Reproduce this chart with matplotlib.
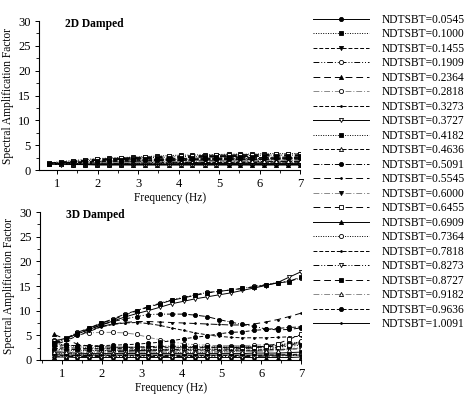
import matplotlib

matplotlib.use("Agg")
import matplotlib.pyplot as plt
from matplotlib.ticker import MultipleLocator

plt.rcParams["font.family"] = ["Liberation Serif", "DejaVu Serif"]

# frequency points (Hz)
freq = [0.80, 1.10, 1.39, 1.69, 1.98, 2.28, 2.57, 2.87, 3.16, 3.46, 3.75,
        4.05, 4.34, 4.64, 4.93, 5.23, 5.52, 5.82, 6.11, 6.41, 6.70, 7.00]

ndtsbt = ["0.0545", "0.1000", "0.1455", "0.1909", "0.2364", "0.2818",
          "0.3273", "0.3727", "0.4182", "0.4636", "0.5091", "0.5545",
          "0.6000", "0.6455", "0.6909", "0.7364", "0.7818", "0.8273",
          "0.8727", "0.9182", "0.9636", "1.0091"]

# 2D damped spectral amplification, one row per NDTSBT
saf_2d = [
    [1.2, 1.2, 1.2, 1.2, 1.2, 1.2, 1.2, 1.2, 1.2, 1.2, 1.2, 1.2, 1.2, 1.2, 1.2, 1.2, 1.2, 1.2, 1.2, 1.2, 1.2, 1.2],
    [1.2, 1.4, 1.5, 1.6, 1.7, 1.8, 1.8, 1.9, 2.0, 2.0, 2.1, 2.1, 2.2, 2.2, 2.2, 2.3, 2.3, 2.3, 2.3, 2.4, 2.4, 2.4],
    [1.3, 1.4, 1.6, 1.7, 1.8, 1.9, 2.0, 2.1, 2.2, 2.2, 2.3, 2.3, 2.4, 2.4, 2.4, 2.5, 2.5, 2.5, 2.5, 2.6, 2.6, 2.6],
    [1.2, 1.2, 1.3, 1.3, 1.3, 1.4, 1.4, 1.4, 1.4, 1.5, 1.5, 1.5, 1.5, 1.6, 1.6, 1.6, 1.6, 1.6, 1.7, 1.7, 1.7, 1.7],
    [1.3, 1.5, 1.7, 1.8, 2.0, 2.1, 2.2, 2.3, 2.4, 2.5, 2.5, 2.6, 2.6, 2.7, 2.7, 2.8, 2.8, 2.8, 2.9, 2.9, 2.9, 2.9],
    [1.2, 1.2, 1.2, 1.2, 1.3, 1.3, 1.3, 1.3, 1.3, 1.3, 1.4, 1.4, 1.4, 1.4, 1.4, 1.4, 1.4, 1.5, 1.5, 1.5, 1.5, 1.5],
    [1.2, 1.3, 1.4, 1.5, 1.6, 1.6, 1.7, 1.7, 1.8, 1.8, 1.9, 1.9, 2.0, 2.0, 2.0, 2.1, 2.1, 2.1, 2.1, 2.2, 2.2, 2.2],
    [1.2, 1.1, 1.1, 1.1, 1.0, 1.0, 1.0, 1.0, 1.0, 1.0, 1.0, 1.0, 1.0, 1.0, 1.0, 1.0, 1.0, 1.0, 1.0, 1.0, 1.0, 1.0],
    [1.4, 1.7, 1.9, 2.1, 2.3, 2.4, 2.5, 2.6, 2.7, 2.8, 2.9, 3.0, 3.0, 3.1, 3.1, 3.2, 3.2, 3.2, 3.3, 3.3, 3.3, 3.3],
    [1.2, 1.2, 1.2, 1.3, 1.3, 1.3, 1.3, 1.4, 1.4, 1.4, 1.4, 1.4, 1.5, 1.5, 1.5, 1.5, 1.5, 1.5, 1.6, 1.6, 1.6, 1.6],
    [1.3, 1.5, 1.7, 1.9, 2.0, 2.2, 2.3, 2.4, 2.5, 2.5, 2.6, 2.7, 2.7, 2.8, 2.8, 2.9, 2.9, 2.9, 3.0, 3.0, 3.0, 3.0],
    [1.2, 1.3, 1.4, 1.4, 1.5, 1.6, 1.6, 1.7, 1.7, 1.8, 1.8, 1.8, 1.9, 1.9, 1.9, 2.0, 2.0, 2.0, 2.0, 2.1, 2.1, 2.1],
    [1.2, 1.3, 1.3, 1.4, 1.5, 1.5, 1.6, 1.6, 1.6, 1.7, 1.7, 1.7, 1.8, 1.8, 1.8, 1.9, 1.9, 1.9, 1.9, 2.0, 2.0, 2.0],
    [1.4, 1.6, 1.8, 2.0, 2.2, 2.3, 2.4, 2.5, 2.6, 2.7, 2.8, 2.8, 2.9, 2.9, 3.0, 3.0, 3.1, 3.1, 3.1, 3.2, 3.2, 3.2],
    [1.2, 1.2, 1.1, 1.1, 1.1, 1.1, 1.1, 1.1, 1.1, 1.1, 1.1, 1.1, 1.1, 1.1, 1.1, 1.1, 1.1, 1.1, 1.1, 1.1, 1.1, 1.1],
    [1.2, 1.2, 1.2, 1.2, 1.2, 1.2, 1.3, 1.3, 1.3, 1.3, 1.3, 1.3, 1.3, 1.3, 1.3, 1.4, 1.4, 1.4, 1.4, 1.4, 1.4, 1.4],
    [1.2, 1.3, 1.4, 1.5, 1.6, 1.7, 1.8, 1.8, 1.9, 1.9, 2.0, 2.0, 2.1, 2.1, 2.1, 2.2, 2.2, 2.2, 2.2, 2.3, 2.3, 2.3],
    [1.2, 1.2, 1.3, 1.3, 1.4, 1.4, 1.4, 1.5, 1.5, 1.5, 1.6, 1.6, 1.6, 1.6, 1.7, 1.7, 1.7, 1.7, 1.7, 1.8, 1.8, 1.8],
    [1.3, 1.5, 1.6, 1.8, 1.9, 2.0, 2.1, 2.2, 2.3, 2.4, 2.4, 2.5, 2.5, 2.6, 2.6, 2.7, 2.7, 2.7, 2.8, 2.8, 2.8, 2.8],
    [1.2, 1.2, 1.3, 1.4, 1.4, 1.5, 1.5, 1.5, 1.6, 1.6, 1.6, 1.7, 1.7, 1.7, 1.7, 1.8, 1.8, 1.8, 1.8, 1.9, 1.9, 1.9],
    [1.3, 1.4, 1.5, 1.6, 1.7, 1.8, 1.9, 2.0, 2.0, 2.1, 2.1, 2.2, 2.2, 2.3, 2.3, 2.3, 2.4, 2.4, 2.4, 2.4, 2.5, 2.5],
    [1.2, 1.2, 1.2, 1.2, 1.2, 1.2, 1.2, 1.2, 1.2, 1.2, 1.2, 1.3, 1.3, 1.3, 1.3, 1.3, 1.3, 1.3, 1.3, 1.3, 1.3, 1.3],
]

# 3D damped spectral amplification, one row per NDTSBT
saf_3d = [
    [1.8, 1.5, 1.4, 1.3, 1.3, 1.3, 1.3, 1.3, 1.3, 1.3, 1.3, 1.3, 1.3, 1.3, 1.3, 1.3, 1.3, 1.4, 1.4, 1.4, 1.5, 1.6],
    [2.2, 2.0, 1.9, 1.9, 1.9, 2.0, 2.0, 2.1, 2.1, 2.1, 2.2, 2.2, 2.2, 2.2, 2.2, 2.3, 2.3, 2.4, 2.5, 2.6, 2.8, 3.0],
    [2.8, 2.5, 2.4, 2.3, 2.3, 2.3, 2.4, 2.4, 2.5, 2.5, 2.5, 2.5, 2.5, 2.5, 2.5, 2.5, 2.6, 2.6, 2.7, 2.9, 3.1, 3.4],
    [3.5, 4.4, 5.6, 6.5, 7.5, 8.3, 9.3, 10.0, 10.8, 11.5, 12.2, 12.7, 13.2, 13.7, 13.9, 14.2, 14.5, 14.9, 15.3, 15.7, 16.0, 16.6],
    [5.2, 4.2, 3.2, 2.8, 2.7, 2.6, 2.6, 2.6, 2.7, 2.7, 2.7, 2.6, 2.6, 2.6, 2.6, 2.6, 2.6, 2.6, 2.7, 2.8, 3.0, 3.3],
    [4.0, 4.4, 5.0, 5.5, 5.6, 5.6, 5.5, 5.2, 4.6, 4.1, 3.7, 3.3, 3.1, 3.0, 2.9, 2.9, 2.9, 3.0, 3.1, 3.2, 3.4, 3.6],
    [3.0, 3.9, 4.9, 5.8, 6.7, 7.2, 7.5, 7.6, 7.4, 7.0, 6.5, 6.0, 5.5, 5.1, 4.8, 4.6, 4.5, 4.5, 4.5, 4.6, 4.7, 4.8],
    [3.8, 4.4, 5.3, 6.2, 7.1, 7.9, 8.7, 9.4, 10.0, 10.7, 11.4, 11.9, 12.4, 12.8, 13.2, 13.6, 14.1, 14.6, 15.1, 15.7, 16.8, 17.9],
    [3.4, 3.0, 2.7, 2.5, 2.4, 2.4, 2.5, 2.6, 2.7, 2.8, 2.8, 2.8, 2.7, 2.7, 2.6, 2.6, 2.6, 2.7, 2.8, 3.0, 3.3, 3.7],
    [1.0, 0.9, 0.9, 0.9, 0.9, 0.9, 0.9, 0.9, 0.9, 0.9, 0.9, 0.9, 0.9, 0.9, 0.9, 0.9, 0.9, 0.9, 1.0, 1.0, 1.1, 1.2],
    [3.4, 4.2, 5.3, 6.2, 7.1, 7.8, 8.3, 8.8, 9.2, 9.3, 9.3, 9.3, 9.1, 8.8, 8.2, 7.7, 7.2, 6.8, 6.3, 6.1, 6.2, 6.5],
    [3.2, 4.0, 5.0, 5.9, 6.8, 7.3, 7.6, 7.8, 7.8, 7.7, 7.6, 7.5, 7.4, 7.3, 7.2, 7.1, 7.1, 7.3, 7.7, 8.2, 8.8, 9.5],
    [1.9, 1.8, 1.7, 1.7, 1.7, 1.7, 1.7, 1.8, 1.8, 1.8, 1.8, 1.8, 1.8, 1.8, 1.8, 1.9, 1.9, 1.9, 2.0, 2.1, 2.3, 2.5],
    [1.5, 1.4, 1.4, 1.5, 1.6, 1.7, 1.8, 1.9, 2.0, 2.0, 2.1, 2.1, 2.1, 2.1, 2.2, 2.2, 2.3, 2.5, 2.8, 3.3, 4.2, 5.2],
    [0.6, 0.6, 0.5, 0.5, 0.5, 0.5, 0.5, 0.5, 0.5, 0.5, 0.5, 0.5, 0.5, 0.5, 0.5, 0.5, 0.5, 0.5, 0.5, 0.5, 0.5, 0.6],
    [1.4, 1.3, 1.2, 1.2, 1.2, 1.3, 1.3, 1.4, 1.4, 1.5, 1.5, 1.5, 1.5, 1.6, 1.6, 1.7, 1.8, 1.9, 2.1, 2.5, 3.0, 3.8],
    [2.4, 2.2, 2.1, 2.0, 2.0, 2.0, 2.0, 2.0, 2.0, 2.0, 2.0, 2.0, 2.0, 2.0, 2.0, 2.0, 2.0, 2.0, 2.1, 2.1, 2.2, 2.3],
    [0.8, 0.7, 0.7, 0.7, 0.7, 0.7, 0.7, 0.7, 0.7, 0.7, 0.7, 0.7, 0.7, 0.7, 0.7, 0.7, 0.7, 0.7, 0.8, 0.8, 0.9, 1.0],
    [3.3, 4.3, 5.5, 6.4, 7.4, 8.2, 9.1, 9.9, 10.7, 11.4, 12.1, 12.6, 13.1, 13.6, 13.9, 14.2, 14.5, 14.8, 15.2, 15.6, 15.9, 16.9],
    [1.7, 1.6, 1.5, 1.5, 1.5, 1.5, 1.5, 1.6, 1.6, 1.6, 1.6, 1.6, 1.6, 1.6, 1.6, 1.6, 1.7, 1.7, 1.8, 1.9, 2.1, 2.4],
    [3.0, 3.0, 2.9, 2.9, 2.9, 3.0, 3.1, 3.2, 3.4, 3.6, 3.9, 4.3, 4.6, 4.9, 5.3, 5.6, 5.7, 6.0, 6.2, 6.4, 6.6, 6.7],
    [1.1, 1.0, 1.0, 1.0, 1.0, 1.0, 1.0, 1.0, 1.0, 1.0, 1.0, 1.0, 1.0, 1.0, 1.0, 1.0, 1.0, 1.0, 1.0, 1.0, 1.0, 1.0],
]

# line style, marker, filled?, line colour -- repeats the excel-like cycle
SOLID = "-"
DOT = (0, (1, 1.5))
DASH = (0, (4, 2))
DDOT = (0, (6, 2, 1, 2, 1, 2))
LDASH = (0, (7, 4))
DDASH = (0, (6, 2, 1, 2))
GRAY = "#8a8a8a"
styles = [
    (SOLID, "o", True, "k"), (DOT, "s", True, "k"), (DASH, "v", True, "k"),
    (DDOT, "o", False, "k"), (LDASH, "^", True, "k"), (DDASH, "o", False, GRAY),
    (DASH, ".", True, "k"), (SOLID, "v", False, "k"), (DOT, "s", True, "k"),
    (DASH, "^", False, "k"), (DDASH, "o", True, "k"), (LDASH, ".", True, "k"),
    (DDASH, "v", True, GRAY), (LDASH, "s", False, "k"), (SOLID, "^", True, "k"),
    (DOT, "o", False, "k"), (DASH, ".", True, "k"), (DDOT, "v", False, "k"),
    (LDASH, "s", True, "k"), (DDASH, "^", False, GRAY), (DASH, "o", True, "k"),
    (SOLID, ".", True, "k"),
]


def draw_panel(ax, data, title):
    handles = []
    for vals, lab, (ls, mk, filled, col) in zip(data, ndtsbt, styles):
        ms = 2.6 if mk == "." else 3.0
        (h,) = ax.plot(freq, vals, linestyle=ls, color=col, linewidth=0.7,
                       marker=mk, markersize=ms, markeredgewidth=0.6,
                       markeredgecolor="k",
                       markerfacecolor="k" if filled else "white",
                       label="NDTSBT=" + lab)
        handles.append(h)
    ax.set_ylim(0, 30)
    ax.yaxis.set_major_locator(MultipleLocator(5))
    ax.yaxis.set_minor_locator(MultipleLocator(2.5))
    ax.xaxis.set_major_locator(MultipleLocator(1))
    ax.xaxis.set_minor_locator(MultipleLocator(0.5))
    ax.spines["top"].set_visible(False)
    ax.spines["right"].set_visible(False)
    ax.tick_params(direction="out", length=3, width=0.7, labelsize=9, pad=3)
    ax.tick_params(which="minor", direction="out", length=2, width=0.6)
    ax.set_xlabel("Frequency (Hz)", fontsize=8.3, labelpad=1)
    ax.set_ylabel("Spectral Amplification Factor", fontsize=8.3, labelpad=3)
    ax.text(0.1, 0.98, title, transform=ax.transAxes, fontsize=8.3,
            fontweight="bold", va="center", ha="left")
    return handles


fig = plt.figure(figsize=(4.74, 3.94), dpi=100)
ax_top = fig.add_axes([0.0823, 0.5685, 0.551, 0.378])
ax_bot = fig.add_axes([0.0844, 0.0863, 0.551, 0.3756])

draw_panel(ax_top, saf_2d, "2D Damped")
ax_top.set_xlim(0.55, 7.0)
handles = draw_panel(ax_bot, saf_3d, "3D Damped")
ax_bot.set_xlim(0.45, 7.0)

fig.legend(handles=handles, loc="upper left", bbox_to_anchor=(313 / 474, 1 - 14 / 394),
           frameon=False, fontsize=8.3, handlelength=4.9, handletextpad=1.1,
           labelspacing=0.215, borderpad=0, borderaxespad=0, numpoints=1)

fig.savefig("out.png", dpi=100)
